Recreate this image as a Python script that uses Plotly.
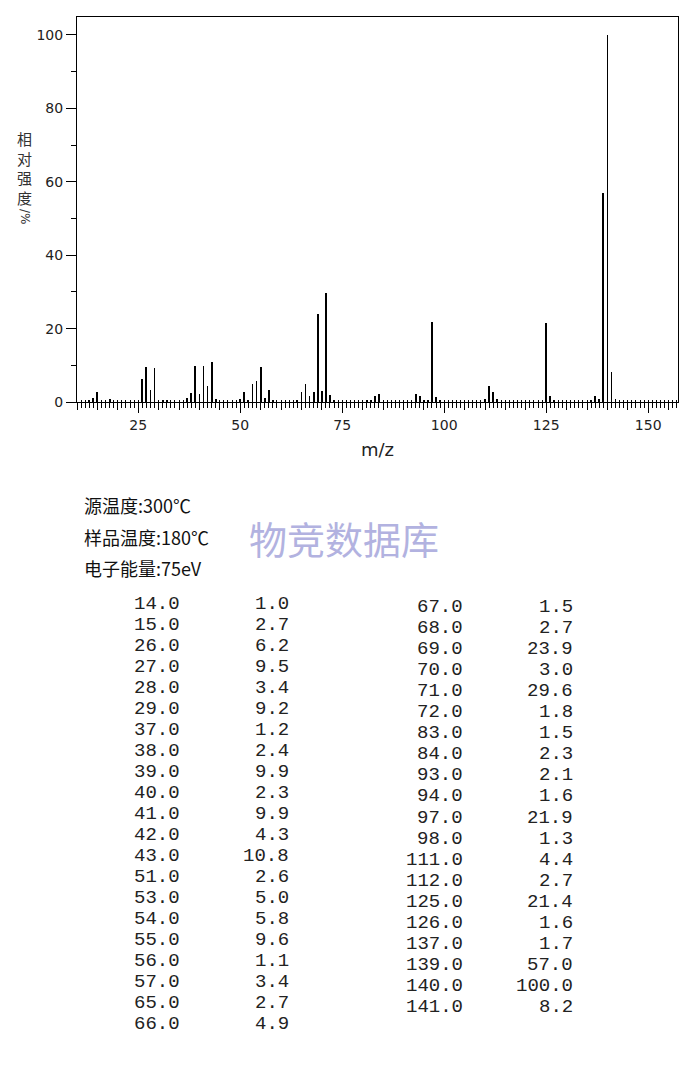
import plotly.graph_objects as go

# ---- data ----
mz_table = [14, 15, 26, 27, 28, 29, 37, 38, 39, 40, 41, 42, 43, 51, 53, 54, 55, 56, 57, 65, 66,
            67, 68, 69, 70, 71, 72, 83, 84, 93, 94, 97, 98, 111, 112, 125, 126, 137, 139, 140, 141]
int_table = [1.0, 2.7, 6.2, 9.5, 3.4, 9.2, 1.2, 2.4, 9.9, 2.3, 9.9, 4.3, 10.8, 2.6, 5.0, 5.8, 9.6, 1.1, 3.4, 2.7, 4.9,
             1.5, 2.7, 23.9, 3.0, 29.6, 1.8, 1.5, 2.3, 2.1, 1.6, 21.9, 1.3, 4.4, 2.7, 21.4, 1.6, 1.7, 57.0, 100.0, 8.2]
# small peaks seen in the spectrum but below the table threshold
mz_minor = [13, 18, 31, 32, 44, 50, 52, 58, 64, 73, 79, 81, 82, 95, 96, 99, 110, 113, 127, 136, 138, 142]
int_minor = [0.5, 0.8, 0.6, 0.4, 0.7, 0.7, 0.5, 0.5, 0.4, 0.5, 0.4, 0.4, 0.5, 0.5, 0.5, 0.6, 0.7, 0.7, 0.5, 0.5, 0.8, 0.7]

info_lines = ["源温度:300℃", "样品温度:180℃", "电子能量:75eV"]
watermark = "物竞数据库"
y_title = "相对强度"
y_title_unit = "/%"
x_title = "m/z"
left_rows = 21

# ---- layout geometry (pixels) ----
W, H = 687, 1075
L, R, T, B = 77, 678, 17, 402


def px(x):
    return (x - L) / (R - L)


def py(y):
    return (B - y) / (B - T)


all_mz = mz_table + mz_minor
all_int = int_table + int_minor

fig = go.Figure()
fig.add_trace(go.Bar(x=all_mz, y=all_int, width=0.2,
                     marker=dict(color="black", line=dict(width=0)),
                     showlegend=False, hoverinfo="x+y"))
# dummy traces for the overlay tick axes
fig.add_trace(go.Scatter(x=[], y=[], xaxis="x2", yaxis="y", showlegend=False))
fig.add_trace(go.Scatter(x=[], y=[], xaxis="x3", yaxis="y", showlegend=False))

xr = [10, 157.3]
yr = [0, 104.9]
tickfont = dict(family="DejaVu Sans", size=14, color="#222")

fig.update_layout(
    width=W, height=H,
    margin=dict(l=L, r=W - R, t=T, b=H - B, pad=0),
    paper_bgcolor="white", plot_bgcolor="white",
    bargap=0,
    xaxis=dict(range=xr, showgrid=False, zeroline=False,
               showline=True, linecolor="black", linewidth=1, mirror=True,
               ticks="outside", ticklen=10, tickwidth=1, tickcolor="black",
               tickmode="linear", tick0=0, dtick=25, tickfont=tickfont,
               minor=dict(ticks="outside", ticklen=5, tickwidth=1, tickcolor="black",
                          dtick=1, tick0=0, showgrid=False)),
    xaxis2=dict(range=xr, overlaying="x", anchor="y", showgrid=False, zeroline=False,
                showline=False, ticks="outside", ticklen=7, tickwidth=1, tickcolor="black",
                tickmode="linear", tick0=0, dtick=5, showticklabels=False),
    xaxis3=dict(range=xr, overlaying="x", anchor="y", showgrid=False, zeroline=False,
                showline=False, ticks="inside", ticklen=2, tickwidth=1, tickcolor="black",
                tickmode="linear", tick0=0, dtick=1, showticklabels=False),
    yaxis=dict(range=yr, showgrid=False, zeroline=False,
               showline=True, linecolor="black", linewidth=1, mirror=True,
               ticks="outside", ticklen=10, tickwidth=1, tickcolor="black",
               tickmode="linear", tick0=0, dtick=20, tickfont=tickfont,
               minor=dict(ticks="outside", ticklen=5, tickwidth=1, tickcolor="black",
                          dtick=10, tick0=0, showgrid=False)),
)

ann = []
# y-axis title (vertical, upright CJK)
ann.append(dict(text="<br>".join(y_title), x=px(25), y=py(168), xref="paper", yref="paper",
                xanchor="center", yanchor="middle", showarrow=False,
                font=dict(family="Noto Sans CJK SC", size=15, color="#333")))
ann.append(dict(text=y_title_unit, x=px(25), y=py(217), xref="paper", yref="paper",
                xanchor="center", yanchor="middle", showarrow=False, textangle=90,
                font=dict(family="DejaVu Sans", size=12, color="#333")))
# x-axis title
ann.append(dict(text=x_title, x=px(377), y=py(449), xref="paper", yref="paper",
                xanchor="center", yanchor="middle", showarrow=False,
                font=dict(family="DejaVu Sans", size=18, color="#222")))
# instrument info lines
for i, t in enumerate(info_lines):
    ann.append(dict(text=t, x=px(82), y=py(505 + 31.5 * i), xref="paper", yref="paper",
                    xanchor="left", yanchor="middle", showarrow=False,
                    font=dict(family="Noto Sans CJK SC", size=18, color="#111")))
# watermark
ann.append(dict(text=watermark, x=px(344), y=py(537), xref="paper", yref="paper",
                xanchor="center", yanchor="middle", showarrow=False,
                font=dict(family="Noto Sans CJK SC", size=38, color="#b2b2e0")))
# peak table
mono = dict(family="Liberation Mono", size=19, color="#222")
for i, (m, v) in enumerate(zip(mz_table, int_table)):
    if i < left_rows:
        yy = 604 + 21.0 * i
        xm, xv = 182, 291
    else:
        yy = 607 + 21.05 * (i - left_rows)
        xm, xv = 465, 575
    ann.append(dict(text=f"{m:.1f}", x=px(xm), y=py(yy), xref="paper", yref="paper",
                    xanchor="right", yanchor="middle", showarrow=False, font=mono))
    ann.append(dict(text=f"{v:.1f}", x=px(xv), y=py(yy), xref="paper", yref="paper",
                    xanchor="right", yanchor="middle", showarrow=False, font=mono))

fig.update_layout(annotations=ann)
fig.write_html("out.html", config={"displayModeBar": False},
               post_script="document.body.style.margin='0px';")
